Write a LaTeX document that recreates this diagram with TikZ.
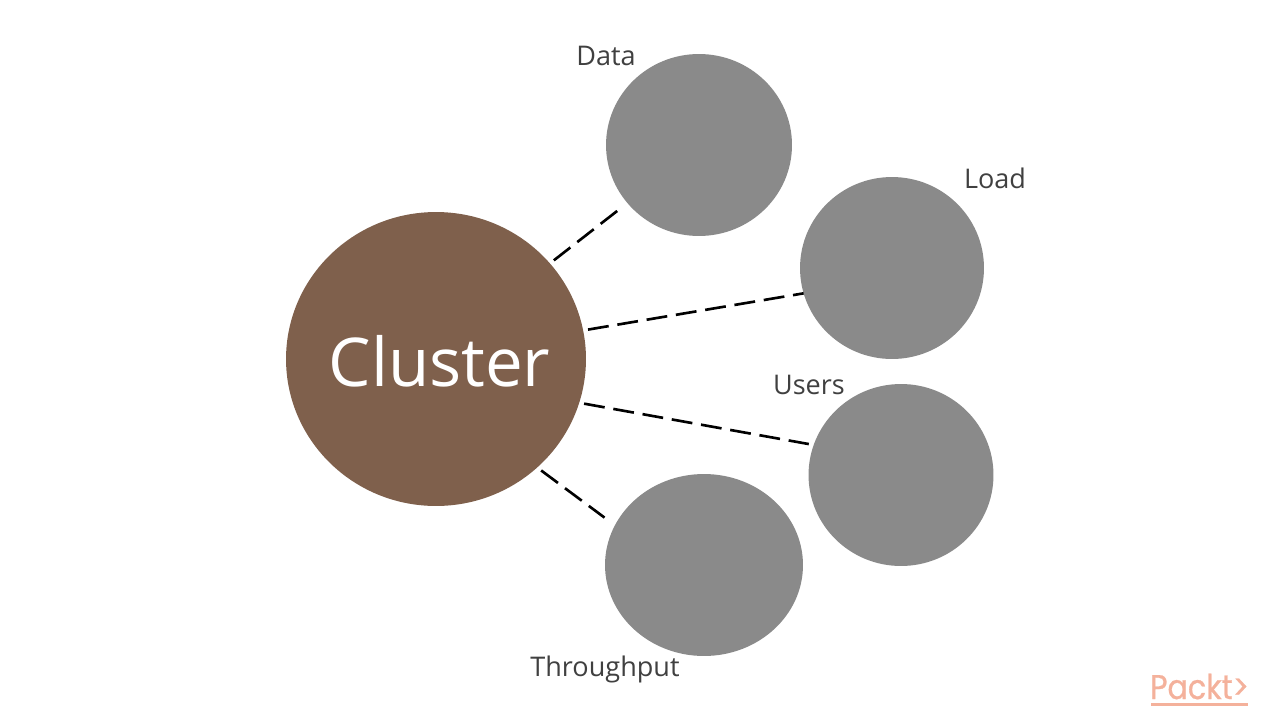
\documentclass[tikz,border=0pt]{standalone}
\usepackage{fontspec}
\setmainfont{Open Sans}
\newfontfamily\logofont[FakeStretch=0.88,FakeBold=0.8]{Poppins}
\usetikzlibrary{shapes.geometric}
\definecolor{clusterbrown}{HTML}{7F604C}
\definecolor{blobgray}{HTML}{8A8A8A}
\definecolor{labelgray}{HTML}{404040}
\definecolor{packtpink}{HTML}{F4B19B}
\tikzset{
  blob/.style={ellipse,fill=blobgray,inner sep=0pt,outer sep=0pt,minimum height=3.64cm},
  tag/.style={text=labelgray,font=\fontsize{15.4pt}{18pt}\selectfont},
  link/.style={black,line width=1.5pt,dash pattern=on 11.9pt off 5pt},
}
\begin{document}
\begin{tikzpicture}[x=0.02cm,y=-0.02cm]
  \useasboundingbox (0,0) rectangle (1280,720);
  \node[blob,fill=clusterbrown,minimum width=6cm,minimum height=5.88cm] (cluster) at (436,359) {};
  \node[text=white,font=\fontsize{38.3pt}{46pt}\selectfont] (cluster label) at (439.5,361) {Cluster};
  \foreach \n/\l/\x/\y/\w/\tx/\ty in {
    data/Data/699/145/3.72/606/56,
    load/Load/892/268/3.68/995/178,
    users/Users/901/475/3.7/809/385,
    throughput/Throughput/704/565/3.96/605/669
  }
  {
    \node[blob,minimum width=\w cm] (\n) at (\x,\y) {};
    \node[tag] (\n label) at (\tx,\ty) {\l};
  }
  \foreach \n/\a/\b/\s in {
    data/40/219/0.24,
    load/11/196/0,
    users/-17/161/0.1,
    throughput/-47/156/0.26
  }
  {
    \draw[link,shorten <=0.1cm,shorten >=\s cm] (cluster.\a) -- (\n.\b);
  }
  % logo
  \node[text=packtpink,inner sep=0pt,font=\logofont\fontsize{19.5pt}{24pt}\selectfont] (logo) at (1199.5,686.5) {Packt>};
  \fill[packtpink] (1151,703) rectangle (1248,705.5);
\end{tikzpicture}
\end{document}
